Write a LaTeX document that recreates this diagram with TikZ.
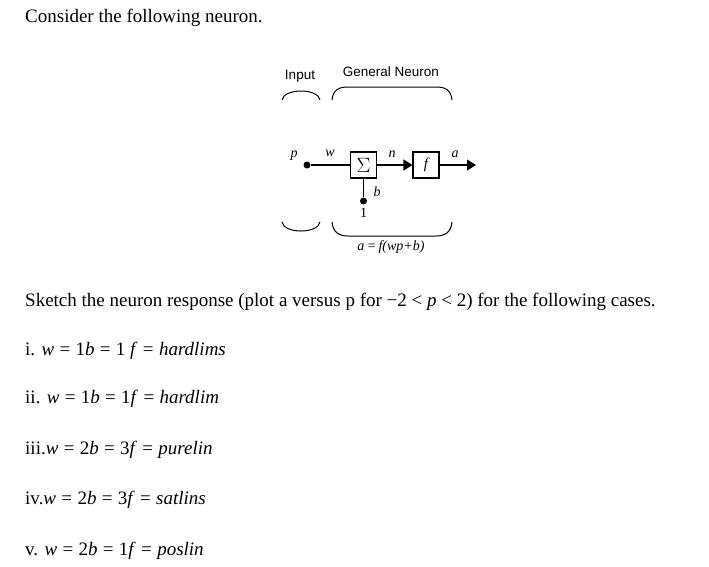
\documentclass[tikz,border=0pt]{standalone}
\usepackage{fontspec}
\setmainfont{Liberation Serif}
\setsansfont{Liberation Sans}
\usetikzlibrary{arrows.meta}
\newcommand{\iv}[1]{\textit{#1}}
\newcommand{\eqs}{\hspace{0.28em}=\hspace{0.28em}}
\begin{document}
\begin{tikzpicture}[x=1pt,y=-1pt,
  txt/.style={anchor=west,inner sep=0pt,font=\fontsize{19}{22}\selectfont},
  lab/.style={inner sep=0pt,font=\sffamily\fontsize{13.5}{15}\selectfont},
  ml/.style={inner sep=0pt,font=\fontsize{14}{15}\selectfont\itshape},
  box/.style={draw,line width=1.1pt,minimum size=26pt,inner sep=0pt},
  dotn/.style={circle,fill,inner sep=0pt,minimum size=7pt},
  br/.style={line width=1pt}]
\useasboundingbox (0,0) rectangle (709,566);
\node[txt] (t0) at (25,18) {Consider the following neuron.};
\node[lab] (inp) at (300,76) {Input};
\node[lab] (gn) at (391,72) {General Neuron};
\draw[br] (282,100) .. controls (284,88) and (318,88) .. (320,100);
\draw[br] (332,100) .. controls (333,89) and (340,87) .. (348,87) -- (436,87) .. controls (444,87) and (451,89) .. (452,100);
\draw[br] (282,222) .. controls (284,234) and (318,234) .. (320,222);
\draw[br] (332,222) .. controls (333,233) and (340,236) .. (348,236) -- (436,236) .. controls (444,236) and (451,233) .. (452,222);
\node[dotn] (p) at (307,165) {};
\node[ml] (pl) at (294,156) {p};
\node[box,font=\fontsize{20}{22}\selectfont] (sum) at (363.5,165) {$\Sigma$};
\node[box,font=\fontsize{15}{16}\selectfont\itshape] (f) at (426,165) {f};
\node[ml] (wl) at (330,153) {w};
\node[ml] (nl) at (392,154) {n};
\node[ml] (al) at (455,154) {a};
\node[dotn] (one) at (363.5,201) {};
\node[ml] (bl) at (377,192) {b};
\node[inner sep=0pt,font=\fontsize{14}{15}\selectfont] (onel) at (363.5,213) {1};
\coordinate (out) at (476,165);
\draw[line width=1.1pt] (p) -- (sum);
\draw[line width=1.1pt,-{Triangle[length=9pt,width=11pt]}] (sum) -- (f);
\draw[line width=1.1pt,-{Triangle[length=9pt,width=11pt]}] (f) -- (out);
\draw[line width=1.1pt] (one) -- (sum);
\node[ml] (form) at (391,247) {a\,=\,f(wp+b)};
\node[txt] (t1) at (25,302) {Sketch the neuron response (plot a versus p for −2\hspace{0.25em}<\hspace{0.25em}\iv{p}\hspace{0.25em}<\hspace{0.25em}2) for the following cases.};
\node[txt] (c1) at (25,351) {i. \iv{w}\eqs1\iv{b}\eqs1 \iv{f}\eqs\iv{hardlims}};
\node[txt] (c2) at (25,399) {ii. \iv{w}\eqs1\iv{b}\eqs1\iv{f}\eqs\iv{hardlim}};
\node[txt] (c3) at (25,450) {iii.\iv{w}\eqs2\iv{b}\eqs3\iv{f}\eqs\iv{purelin}};
\node[txt] (c4) at (25,500) {iv.\iv{w}\eqs2\iv{b}\eqs3\iv{f}\eqs\iv{satlins}};
\node[txt] (c5) at (25,551) {v. \iv{w}\eqs2\iv{b}\eqs1\iv{f}\eqs\iv{poslin}};
\end{tikzpicture}
\end{document}
